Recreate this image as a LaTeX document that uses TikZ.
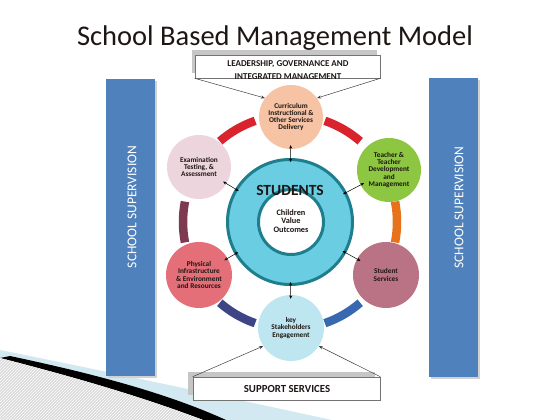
\documentclass[tikz,border=0pt]{standalone}
\usepackage{fontspec}
\setmainfont{Carlito}
\usetikzlibrary{arrows.meta,patterns}
\definecolor{supblue}{HTML}{4F81BD}
\definecolor{ringfill}{HTML}{6ACDE2}
\definecolor{ringline}{HTML}{1F7E8E}
\definecolor{cpeach}{HTML}{F6C3A5}
\definecolor{cpink}{HTML}{ECD5DC}
\definecolor{cgreen}{HTML}{8DC641}
\definecolor{ccoral}{HTML}{E46F78}
\definecolor{cmauve}{HTML}{B97384}
\definecolor{clblue}{HTML}{BEE6F0}
\definecolor{ared}{HTML}{D9242E}
\definecolor{amaroon}{HTML}{7D3A50}
\definecolor{aorange}{HTML}{E8711C}
\definecolor{anavy}{HTML}{3E4585}
\definecolor{ablue}{HTML}{3868B0}
\definecolor{txt}{HTML}{1E1614}
\definecolor{swblue}{HTML}{D3E9F2}
\tikzset{
  outer/.style={circle, minimum size=64pt, inner sep=0pt, align=center,
     font=\bfseries\fontsize{7.3}{7.2}\selectfont, text=txt},
  ringarc/.style={line width=8.5pt},
  dbl/.style={{Stealth[length=3.5pt,width=3pt]}-{Stealth[length=3.5pt,width=3pt]}, line width=0.5pt, shorten <=-4pt, shorten >=-4pt},
  sgl/.style={-{Stealth[length=4pt,width=3.2pt]}, line width=0.5pt, draw=black!75},
  supbox/.style={fill=supblue, draw=none},
  infobox/.style={rectangle, fill=white, draw=black!55, line width=0.6pt, inner sep=0pt}
}
\begin{document}
\begin{tikzpicture}[x=1pt,y=-1pt]
\useasboundingbox (0,0) rectangle (560,420);
\fill[white] (0,0) rectangle (560,420);
% bottom-left swoosh
\fill[swblue] (0,350) .. controls (110,372) and (230,398) .. (332,420) -- (0,420) -- cycle;
\fill[black] (10,356) .. controls (80,371) and (160,390) .. (226,420) -- (203,420) .. controls (140,396) and (70,376) .. (0,358) -- cycle;
\fill[gray!30] (0,358) .. controls (70,376) and (140,396) .. (203,420) -- (0,420) -- cycle;
\fill[pattern=north east lines, pattern color=white] (0,358) .. controls (70,376) and (140,396) .. (203,420) -- (0,420) -- cycle;
% title
\node[font=\fontsize{28.5}{31}\selectfont, text=txt] (title) at (275,38) {School Based Management Model};
% supervision bars
\fill[gray!35] (108,81) rectangle (157,378);
\fill[gray!35] (431,80) rectangle (480,379);
\node[supbox, minimum width=49pt, minimum height=297pt, inner sep=0pt] (lsup) at (130.5,227.5) {};
\node[supbox, minimum width=49pt, minimum height=299pt, inner sep=0pt] (rsup) at (453.5,227.5) {};
\node[rotate=90, text=white, font=\fontsize{13.5}{15}\selectfont] (lsupt) at (132,207) {SCHOOL SUPERVISION};
\node[rotate=90, text=white, font=\fontsize{13.5}{15}\selectfont] (rsupt) at (459,207.5) {SCHOOL SUPERVISION};
% ring arcs (code angle = - visual angle)
\draw[ringarc, ared]    ([shift={(290,222)}]-109:107) arc[start angle=-109, end angle=-131, radius=107];
\draw[ringarc, ared]    ([shift={(290,222)}]-49:107) arc[start angle=-49, end angle=-71, radius=107];
\draw[ringarc, amaroon] ([shift={(290,222)}]169:107) arc[start angle=169, end angle=191, radius=107];
\draw[ringarc, aorange] ([shift={(290,222)}]-11:107) arc[start angle=-11, end angle=11, radius=107];
\draw[ringarc, anavy]   ([shift={(290,222)}]109:107) arc[start angle=109, end angle=131, radius=107];
\draw[ringarc, ablue]   ([shift={(290,222)}]49:107) arc[start angle=49, end angle=71, radius=107];
% central ring
\node[circle, fill=ringfill, draw=ringline, line width=3pt, minimum size=125pt, inner sep=0pt] (stu) at (290,222) {};
\node[circle, fill=white, draw=ringline, line width=3pt, minimum size=65pt, inner sep=0pt] (inner) at (291,222) {};
\node[font=\bfseries\fontsize{15.5}{16}\selectfont, text=txt] (stut) at (290,190) {STUDENTS};
\node[align=center, font=\bfseries\fontsize{8.3}{8.8}\selectfont, text=txt] (cvo) at (291,221) {Children\\Value\\Outcomes};
% outer circles
\node[outer, fill=cpeach] (cur) at (291,117) {Curriculum\\Instructional \&\\Other Services\\Delivery};
\node[outer, fill=cpink] (exa) at (199,167) {Examination\\Testing, \&\\Assessment};
\node[outer, fill=cgreen] (tea) at (389,170) {Teacher \&\\Teacher\\Development\\and\\Management};
\node[outer, fill=ccoral, minimum size=66pt] (phy) at (199,275) {Physical\\Infrastructure\\\& Environment\\and Resources};
\node[outer, fill=cmauve, minimum size=66pt] (ssv) at (386,275) {Student\\Services};
\node[outer, fill=clblue, minimum size=66pt] (key) at (291,328) {key\\Stakeholders\\Engagement};
% double arrows
\draw[dbl] (cur) -- (stu);
\draw[dbl] (exa) -- (stu);
\draw[dbl] (tea) -- (stu);
\draw[dbl] (phy) -- (stu);
\draw[dbl] (ssv) -- (stu);
\draw[dbl] (key) -- (stu);
% top box
\fill[gray!45] (192,50) rectangle (377,73);
\node[infobox, minimum width=185pt, minimum height=23pt] (lead) at (287.5,66.5) {};
\node[align=center, font=\bfseries\fontsize{9}{13}\selectfont, text=txt] (leadt) at (288,70.5) {LEADERSHIP, GOVERNANCE AND\\INTEGRATED MANAGEMENT};
\draw[sgl] (lead.south west) -- (cur.144);
\draw[sgl] (lead.south east) -- (cur.36);
% bottom box
\fill[gray!45] (188,372) rectangle (375,395);
\node[infobox, minimum width=187pt, minimum height=23pt] (sup) at (286.5,388.5) {};
\node[font=\bfseries\fontsize{10.8}{12}\selectfont, text=txt] (supt) at (287,389) {SUPPORT SERVICES};
\draw[sgl] (sup.north west) -- (key.213);
\draw[sgl] (sup.north east) -- (key.-33);
\end{tikzpicture}
\end{document}
